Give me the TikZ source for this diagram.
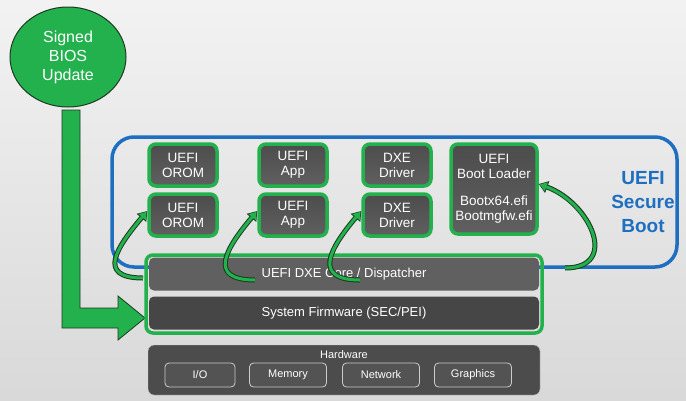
\documentclass[tikz,border=0pt]{standalone}
\usepackage{fontspec}
\setmainfont{Liberation Sans}
\usetikzlibrary{arrows.meta,shapes.geometric}
\definecolor{gr}{HTML}{22B14C}
\definecolor{bl}{HTML}{1F6FC0}
\definecolor{dk}{HTML}{1E3A22}
\begin{document}
\begin{tikzpicture}[x=1pt,y=-1pt,
 box/.style={draw=gr,line width=3.5pt,rounded corners=7pt,top color=gray!60!black,bottom color=gray!75!black,text=white,font=\fontsize{13.5}{15}\selectfont,align=center,inner sep=0pt},
 hw/.style={draw=gray!40,line width=0.8pt,rounded corners=4pt,fill=gray!65!black,text=white,font=\fontsize{11}{12}\selectfont,inner sep=0pt},
 carr/.style={line width=5pt,draw=dk,-{Triangle[length=9pt,width=12pt]}},
 carri/.style={line width=3pt,draw=gr,-{Triangle[length=7pt,width=9pt]},shorten >=1pt}]
\useasboundingbox (0,0) rectangle (686,400);
\fill[top color=gray!10,bottom color=gray!30] (0,0) rectangle (686,400);
% signed bios arrow
\path[fill=gr,draw=dk,line width=0.8pt] (62,110)--(80,110)--(80,308)--(118,308)--(118,296)--(145,318)--(118,340)--(118,328)--(62,328)--cycle;
\node[ellipse,draw=dk,line width=1pt,fill=gr,minimum width=116pt,minimum height=100pt,text=white,align=center,font=\fontsize{16}{19}\selectfont] (sbu) at (68,57) {Signed\\BIOS\\Update};
% blue frame
\draw[bl,line width=3.5pt,rounded corners=22pt] (112,137) rectangle (677,267);
\node[bl,font=\bfseries\fontsize{19}{24}\selectfont,align=center] (usb) at (643,202) {UEFI\\Secure\\Boot};
% firmware
\node[draw=gr,line width=3.5pt,rounded corners=7pt,minimum width=396pt,minimum height=78pt,inner sep=0pt] (fw) at (344,294) {};
\node[fill=gray!75!black,rounded corners=5pt,minimum width=390pt,minimum height=33pt,text=white,font=\fontsize{13}{14}\selectfont] (core) at (344,274) {UEFI DXE Core / Dispatcher};
\node[fill=gray!55!black,rounded corners=5pt,minimum width=390pt,minimum height=33pt,text=white,font=\fontsize{13}{14}\selectfont] (sf) at (344,313) {System Firmware (SEC/PEI)};
% boxes
\foreach \n/\x/\t in {a/183/UEFI\\OROM,b/293/UEFI\\App,c/397/DXE\\Driver}{
 \node[box,minimum width=68pt,minimum height=42pt] (\n1) at (\x,165) {\t};
 \node[box,minimum width=68pt,minimum height=42pt] (\n2) at (\x,215) {\t};}
\node[box,minimum width=86pt,minimum height=90pt] (bl) at (494,189) {UEFI\\Boot Loader\\[12pt]Bootx64.efi\\Bootmgfw.efi};
% curved arrows
\coordinate (s1) at (143,278); \coordinate (s2) at (255,280); \coordinate (s3) at (360,280); \coordinate (s4) at (565,268);
\foreach \s/\t in {s1/a2,s2/b2,s3/c2}{
 \draw[carr] (\s) to[out=180,in=230,looseness=1.8] ([yshift=4pt]\t.west);
 \draw[carri] (\s) to[out=180,in=230,looseness=1.8] ([yshift=4pt]\t.west);}
\draw[carr] (s4) to[out=0,in=-20,looseness=1.6] ([yshift=5pt]bl.east);
\draw[carri] (s4) to[out=0,in=-20,looseness=1.6] ([yshift=5pt]bl.east);
% hardware
\node[fill=gray!60!black,draw=gray!40,rounded corners=6pt,minimum width=392pt,minimum height=50pt] (hwb) at (344,370) {};
\node[text=white,font=\fontsize{11}{12}\selectfont] (hwt) at (344,355) {Hardware};
\node[hw,minimum width=70pt,minimum height=24pt] (io) at (200,375) {I/O};
\node[hw,minimum width=77pt,minimum height=24pt] (mem) at (288,375) {Memory};
\node[hw,minimum width=77pt,minimum height=24pt] (net) at (381,375) {Network};
\node[hw,minimum width=77pt,minimum height=24pt] (gfx) at (473,375) {Graphics};
\end{tikzpicture}
\end{document}
